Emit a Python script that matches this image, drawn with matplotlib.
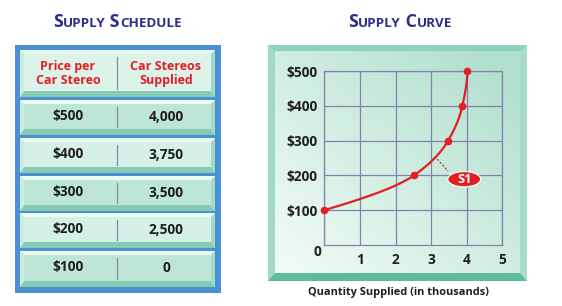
import numpy as np
import matplotlib
matplotlib.use("Agg")
import matplotlib.pyplot as plt
import matplotlib.patches as patches
from matplotlib.offsetbox import TextArea, HPacker, AnnotationBbox

plt.rcParams['font.family'] = ['Open Sans', 'DejaVu Sans']

# ---- data ----
price = [500, 400, 300, 200, 100]
qty_supplied = [4000, 3750, 3500, 2500, 0]
header = ["Price per\nCar Stereo", "Car Stereos\nSupplied"]

curve_price = [100, 200, 300, 400, 500]
curve_qty = [0.0, 2.52, 3.48, 3.88, 4.02]   # thousands, as plotted

x_ticks = [1, 2, 3, 4, 5]
y_ticks = [100, 200, 300, 400, 500]

RED = '#e31e24'
NAVY = '#2e2c8a'
DARK = '#1e1e1e'
GRID = '#8581ad'


def pchip(xk, yk, xs):
    """monotone cubic through the points, for a smooth drawn line"""
    xk = np.asarray(xk, float)
    yk = np.asarray(yk, float)
    h = np.diff(xk)
    d = np.diff(yk) / h
    m = np.zeros_like(yk)
    for k in range(1, len(xk) - 1):
        if d[k - 1] * d[k] > 0:
            w1 = 2 * h[k] + h[k - 1]
            w2 = h[k] + 2 * h[k - 1]
            m[k] = (w1 + w2) / (w1 / d[k - 1] + w2 / d[k])
    m[0] = ((2 * h[0] + h[1]) * d[0] - h[0] * d[1]) / (h[0] + h[1])
    m[-1] = ((2 * h[-1] + h[-2]) * d[-1] - h[-1] * d[-2]) / (h[-1] + h[-2])
    m[-1] = max(m[-1], 0)
    idx = np.clip(np.searchsorted(xk, xs) - 1, 0, len(h) - 1)
    t = (xs - xk[idx]) / h[idx]
    h00 = 2 * t**3 - 3 * t**2 + 1
    h10 = t**3 - 2 * t**2 + t
    h01 = -2 * t**3 + 3 * t**2
    h11 = t**3 - t**2
    return (h00 * yk[idx] + h10 * h[idx] * m[idx]
            + h01 * yk[idx + 1] + h11 * h[idx] * m[idx + 1])


def bevel_tile(ax, x0, y0, x1, y1, face, top, bottom, left, right, b=4, bb=6):
    ax.add_patch(patches.Rectangle((x0, y0), x1 - x0, y1 - y0, facecolor=face,
                                   edgecolor='none', zorder=2))
    polys = [
        ([(x0, y0), (x1, y0), (x1 - b, y0 + b), (x0 + b, y0 + b)], top),
        ([(x0, y1), (x1, y1), (x1 - b, y1 - bb), (x0 + b, y1 - bb)], bottom),
        ([(x0, y0), (x0 + b, y0 + b), (x0 + b, y1 - bb), (x0, y1)], left),
        ([(x1, y0), (x1 - b, y0 + b), (x1 - b, y1 - bb), (x1, y1)], right),
    ]
    for pts, c in polys:
        ax.add_patch(patches.Polygon(pts, closed=True, facecolor=c,
                                     edgecolor='none', zorder=3))


def smallcaps(ax, x, y, words, big=12.8, small=9.6):
    kids = []
    for i, w in enumerate(words):
        lead = ' ' if i else ''
        kids.append(TextArea(lead + w[0], textprops=dict(
            fontsize=big, fontweight='bold', color=NAVY)))
        kids.append(TextArea(w[1:], textprops=dict(
            fontsize=small, fontweight='bold', color=NAVY)))
    pack = HPacker(children=kids, align='baseline', pad=0, sep=0)
    ab = AnnotationBbox(pack, (x, y), xycoords='data', frameon=False,
                        box_alignment=(0.5, 0.5), pad=0)
    ax.add_artist(ab)


fig = plt.figure(figsize=(5.62, 3.06), dpi=100)
fig.patch.set_facecolor('white')

# background axes in pixel units
bg = fig.add_axes([0, 0, 1, 1])
bg.set_xlim(0, 562)
bg.set_ylim(306, 0)
bg.axis('off')

# ---- left: supply schedule table ----
smallcaps(bg, 117, 22, ["SUPPLY", "SCHEDULE"])

bg.add_patch(patches.Rectangle((15, 45), 206, 248, facecolor='#4b90d5',
                               edgecolor='none', zorder=1))
rows_y = [(50, 97), (100, 135), (138, 173), (176, 211), (213, 248), (251, 287)]
faces = ['#dcf3ea', '#bde6d7', '#d5f0e6', '#bde6d7', '#d5f0e6', '#bde6d7']
for (y0, y1), face in zip(rows_y, faces):
    bevel_tile(bg, 20, y0, 215, y1, face, top='#eafaf4', bottom='#86cbb4',
               left='#cbeee1', right='#a3dac7')
    bg.plot([117, 117], [y0 + 7, y1 - 8], color='#7d8db0', lw=0.9, zorder=4)

for col_x, txt in zip([68, 166], header):
    bg.text(col_x, 73.5, txt, ha='center', va='center', fontsize=9.0,
            fontweight='bold', color=RED, linespacing=1.05, zorder=5)

for (y0, y1), p, q in zip(rows_y[1:], price, qty_supplied):
    yc = (y0 + y1) / 2 - 1.5
    bg.text(68, yc, f"${p}", ha='center', va='center', fontsize=9.8,
            fontweight='bold', color=DARK, zorder=5)
    bg.text(166, yc + 1, f"{q:,}", ha='center', va='center', fontsize=9.8,
            fontweight='bold', color=DARK, zorder=5)

# ---- right: supply curve panel ----
smallcaps(bg, 400, 22, ["SUPPLY", "CURVE"])

px0, py0, px1, py1 = 268, 45, 527, 281
bg.add_patch(patches.Rectangle((px0, py0), px1 - px0, py1 - py0,
                               facecolor='#8fd3bc', edgecolor='none', zorder=1))
b, bb = 7, 8
bevels = [
    ([(px0, py0), (px1, py0), (px1 - b, py0 + 6), (px0 + b, py0 + 6)], '#8ed2bb'),
    ([(px0, py1), (px1, py1), (px1 - b, py1 - bb), (px0 + b, py1 - bb)], '#5dbb9f'),
    ([(px0, py0), (px0 + b, py0 + 6), (px0 + b, py1 - bb), (px0, py1)], '#9fdac6'),
    ([(px1, py0), (px1 - b, py0 + 6), (px1 - b, py1 - bb), (px1, py1)], '#a8ddca'),
]
for pts, c in bevels:
    bg.add_patch(patches.Polygon(pts, closed=True, facecolor=c,
                                 edgecolor='none', zorder=2))

# gradient face: pale at bottom-left, greener towards top-right
gx, gy = np.meshgrid(np.linspace(0, 1, 200), np.linspace(0, 1, 200))
g = np.clip(0.55 * gx + 0.55 * (1 - gy), 0, 1)
c_lo = np.array([0.95, 0.99, 0.97])
c_hi = np.array([0.70, 0.88, 0.81])
img = c_lo + (c_hi - c_lo) * g[..., None]
bg.imshow(img, extent=(px0 + b, px1 - b, py1 - bb, py0 + 6), zorder=3,
          aspect='auto', interpolation='bilinear')
bg.set_xlim(0, 562)
bg.set_ylim(306, 0)

fig.text(399 / 562, 1 - 292 / 306, "Quantity Supplied (in thousands)",
         ha='center', va='center', fontsize=7.9, fontweight='bold', color=DARK)

# plot axes
ax = fig.add_axes([324.3 / 562, 1 - 245 / 306, 178 / 562, 174 / 306])
ax.set_facecolor('none')
ax.set_xlim(0, 5)
ax.set_ylim(0, 500)
ax.set_xticks([0] + x_ticks)
ax.set_xticklabels([''] + [str(t) for t in x_ticks])
ax.set_yticks(y_ticks)
ax.set_yticklabels([f"${t}" for t in y_ticks])
ax.grid(True, color=GRID, lw=0.9)
ax.set_axisbelow(True)
for s in ax.spines.values():
    s.set_color(GRID)
    s.set_linewidth(0.9)
ax.tick_params(length=0, labelsize=9.8, colors=DARK, pad=5)
ax.tick_params(axis='x', pad=6)
for lab in ax.get_xticklabels() + ax.get_yticklabels():
    lab.set_fontweight('bold')
ax.text(-0.2, -20, "0", ha='center', va='center', fontsize=9.8,
        fontweight='bold', color=DARK, clip_on=False)

pp = np.linspace(curve_price[0], curve_price[-1], 300)
ax.plot(pchip(curve_price, curve_qty, pp), pp, color=RED, lw=1.6,
        clip_on=False, zorder=4)
ax.plot(curve_qty, curve_price, 'o', color=RED, ms=4.5, clip_on=False,
        zorder=5)

# S1 label with dashed leader
ax.plot([3.17, 3.48], [247, 212], color=RED, lw=0.8, ls=(0, (2, 1.5)),
        zorder=4)
ax.add_patch(patches.Ellipse((3.93, 189), 0.92, 44, facecolor=RED,
                             edgecolor='white', lw=0.8, zorder=6,
                             clip_on=False))
ax.text(3.93, 188, "S1", ha='center', va='center', fontsize=9.2,
        fontweight='bold', color='white', zorder=7)

fig.savefig('out.png', dpi=100, facecolor='white')
